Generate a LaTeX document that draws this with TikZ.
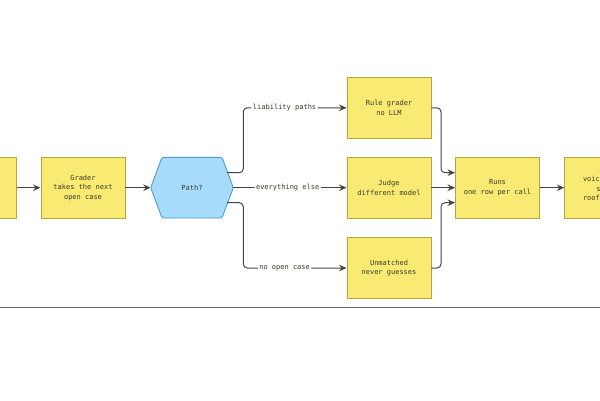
\documentclass[tikz,border=0pt]{standalone}
\usepackage{fontspec}
\setmonofont{DejaVu Sans Mono}
\usetikzlibrary{arrows.meta,shapes.geometric}
\definecolor{boxfill}{HTML}{F8EA72}
\definecolor{boxdraw}{HTML}{B5A43C}
\definecolor{hexfill}{HTML}{A6DBFA}
\definecolor{hexdraw}{HTML}{4C9BD2}
\definecolor{txt}{HTML}{3A3A2A}
\definecolor{wire}{HTML}{444444}
\tikzset{
  x=1pt,y=-1pt,
  box/.style={draw=boxdraw,fill=boxfill,line width=0.9pt,minimum width=84pt,minimum height=60.5pt,
    inner sep=0pt,align=center,font=\ttfamily\fontsize{7}{9.5}\selectfont,text=txt},
  conn/.style={draw=wire,line width=1pt,-{Stealth[length=7.5pt,width=6.5pt]},rounded corners=4pt},
  lbl/.style={fill=white,inner sep=1.5pt,font=\ttfamily\fontsize{7}{9}\selectfont,text=txt},
  frag/.style={anchor=base west,inner sep=0pt,font=\ttfamily\fontsize{7}{9}\selectfont,text=txt},
}
\begin{document}
\begin{tikzpicture}
\useasboundingbox (0,0) rectangle (600,400);
\begin{scope}
\clip (0,0) rectangle (600,400);
\node[box,anchor=east] (prev) at (16.5,187.7) {};
\node[box] (grader) at (83,187.7) {Grader\\takes the next\\open case};
\fill[hexfill,draw=hexdraw,line width=0.9pt,rounded corners=1.5pt]
  (150.7,187.7) -- (162,157.3) -- (222,157.3) -- (233.3,187.7) -- (222,218) -- (162,218) -- cycle;
\node[inner sep=0pt,font=\ttfamily\fontsize{7}{9.5}\selectfont,text=txt] (path) at (192,187.7) {Path?};
\coordinate (pW) at (150.7,187.7);
\coordinate (pE) at (233.3,187.7);
\coordinate (pNE) at (227,172.7);
\coordinate (pSE) at (227,202.7);
\node[box] (rule) at (389,107.8) {Rule grader\\no LLM};
\node[box] (judge) at (389,187.7) {Judge\\different model};
\node[box] (unm) at (389,268) {Unmatched\\never guesses};
\node[box] (runs) at (497.5,187.7) {Runs\\one row per call};
\node[box,anchor=west] (voice) at (564.3,187.7) {};
\node[frag] (v1) at (582.8,181.5) {voic};
\node[frag] (v2) at (596.2,191) {s};
\node[frag] (v3) at (582.8,200.5) {roof};
\draw[conn] (prev.east) -- (grader.west);
\draw[conn] (grader.east) -- (pW);
\draw[conn] (pNE) -- (243.3,172.7) -- (243.3,107.8) -- node[lbl,pos=0.4]{liability paths} (rule.west);
\draw[conn] (pE) -- node[lbl,pos=0.48]{everything else} (judge.west);
\draw[conn] (pSE) -- (243.3,202.7) -- (243.3,268) -- node[lbl,pos=0.4]{no open case} (unm.west);
\draw[conn] (rule.east) -- (441,107.8) -- (441,172.7) -- (runs.west |- 0,172.7);
\draw[conn] (judge.east) -- (runs.west);
\draw[conn] (unm.east) -- (441,268) -- (441,202.7) -- (runs.west |- 0,202.7);
\draw[conn] (runs.east) -- (voice.west);
\end{scope}
\draw[draw=wire!80,line width=1.4pt] (0,307.5) -- (600,307.5);
\end{tikzpicture}
\end{document}
